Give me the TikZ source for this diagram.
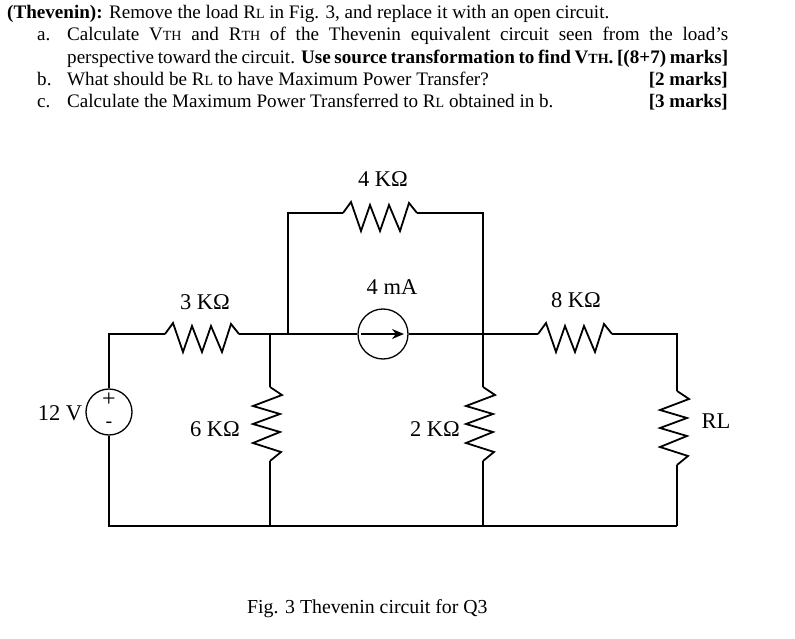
\documentclass[tikz,border=0pt]{standalone}
\usepackage{fontspec}
\setmainfont{Liberation Serif}
\usetikzlibrary{positioning, arrows.meta}
\newcommand{\subs}[1]{{\fontsize{14}{14}\selectfont #1}}
\tikzset{>={Stealth[length=12pt, width=10pt]},
         x=1pt, y=-1pt,
         wire/.style={line width=1.8pt},
         line/.style={anchor=base west, inner sep=0pt, font=\fontsize{19.1}{22}\selectfont},
         figcap/.style={anchor=base west, inner sep=0pt, font=\fontsize{19.8}{22}\selectfont},
         val/.style={inner sep=0pt, font=\fontsize{22.5}{24}\selectfont},
         source/.style={circle, draw, line width=1.3pt, inner sep=0pt},
         resh/.pic={
             \coordinate (-a) at (0,0);
             \coordinate (-b) at (74,0);
             \draw[wire] (0,0) -- (8,-11) -- (18,18) -- (27,-8) -- (37,18) -- (46,-8) -- (57,18) -- (66,-10) -- (74,0);
         },
         resv/.pic={
             \coordinate (-a) at (0,0);
             \coordinate (-b) at (0,74);
             \draw[wire] (0,0) -- (12,8) -- (-17,19) -- (10,27) -- (-17,37) -- (10,45) -- (-17,56) -- (11,65) -- (0,74);
         },
         }

\begin{document}
\begin{tikzpicture}
    \useasboundingbox (0,0) rectangle (795,639);

    % question text
    \node[line] (title) at (7,19) {\textbf{(Thevenin):} Remove the load R\subs{L} in Fig. 3, and replace it with an open circuit.};
    \node[line] (a) at (37,41) {a.};
    \node[line] (b) at (37,86) {b.};
    \node[line] (c) at (37,108) {c.};
    \node[line] (a1) at (67,41) {\hbox to 661pt{Calculate V\subs{TH} and R\subs{TH} of the Thevenin equivalent circuit seen from the load’s}};
    \node[line] (a2) at (67,64) {\hbox to 661pt{perspective toward the circuit. \textbf{Use source transformation to find V\subs{TH}. [(8+7) marks]}}};
    \node[line] (b1) at (67,86) {What should be R\subs{L} to have Maximum Power Transfer?};
    \node[line] (c1) at (67,108) {Calculate the Maximum Power Transferred to R\subs{L} obtained in b.};
    \node[line, anchor=base east] (b2) at (728,86) {\textbf{[2 marks]}};
    \node[line, anchor=base east] (c2) at (728,108) {\textbf{[3 marks]}};

    % sources
    \node[source, minimum size=46pt] (vs) at (109,412) {};
    \node[source, minimum size=50pt] (cs) at (383,334) {};
    \node[val, font=\fontsize{24}{24}\selectfont] (plus) at (109,400) {+};
    \node[val, font=\fontsize{20}{20}\selectfont] (minus) at (109,425) {-};

    % resistors
    \pic (r3) at (165,334) {resh};
    \pic (r4) at (343,213) {resh};
    \pic (r8) at (538,334) {resh};
    \pic (r6) at (270,387) {resv};
    \pic (r2) at (483,387) {resv};
    \pic (rl) at (677,391) {resv};

    % junctions
    \coordinate (j6) at (270,334);
    \coordinate (j4) at (288,334);
    \coordinate (j2) at (483,334);
    \coordinate (g6) at (270,526);
    \coordinate (g2) at (483,526);
    \coordinate (gr) at (677,526);

    \draw[wire] (vs) |- (r3-a)
                (r3-b) -- (j6) -- (j4) -- (cs)
                (cs) -- (j2) -- (r8-a)
                (j6) -- (r6-a)
                (r6-b) -- (g6)
                (j2) -- (r2-a)
                (r2-b) -- (g2)
                (j4) |- (r4-a)
                (r4-b) -| (j2)
                (r8-b) -| (rl-a)
                (rl-b) -- (gr)
                (vs) |- (g6) -- (g2) -- (gr);
    \draw[->, line width=2pt] (361,334) -- (404,334);

    % values
    \node[val] (l3) at (205,302) {3 KΩ};
    \node[val] (l4) at (383,179) {4 KΩ};
    \node[val] (lma) at (392,287) {4 mA};
    \node[val] (l8) at (576,300) {8 KΩ};
    \node[val] (l6) at (215,429) {6 KΩ};
    \node[val] (l2) at (435,429) {2 KΩ};
    \node[val] (lv) at (60,413) {12 V};
    \node[val] (lrl) at (716,421) {RL};
    \node[figcap] (caption) at (247,613) {Fig. 3 Thevenin circuit for Q3};
\end{tikzpicture}
\end{document}
